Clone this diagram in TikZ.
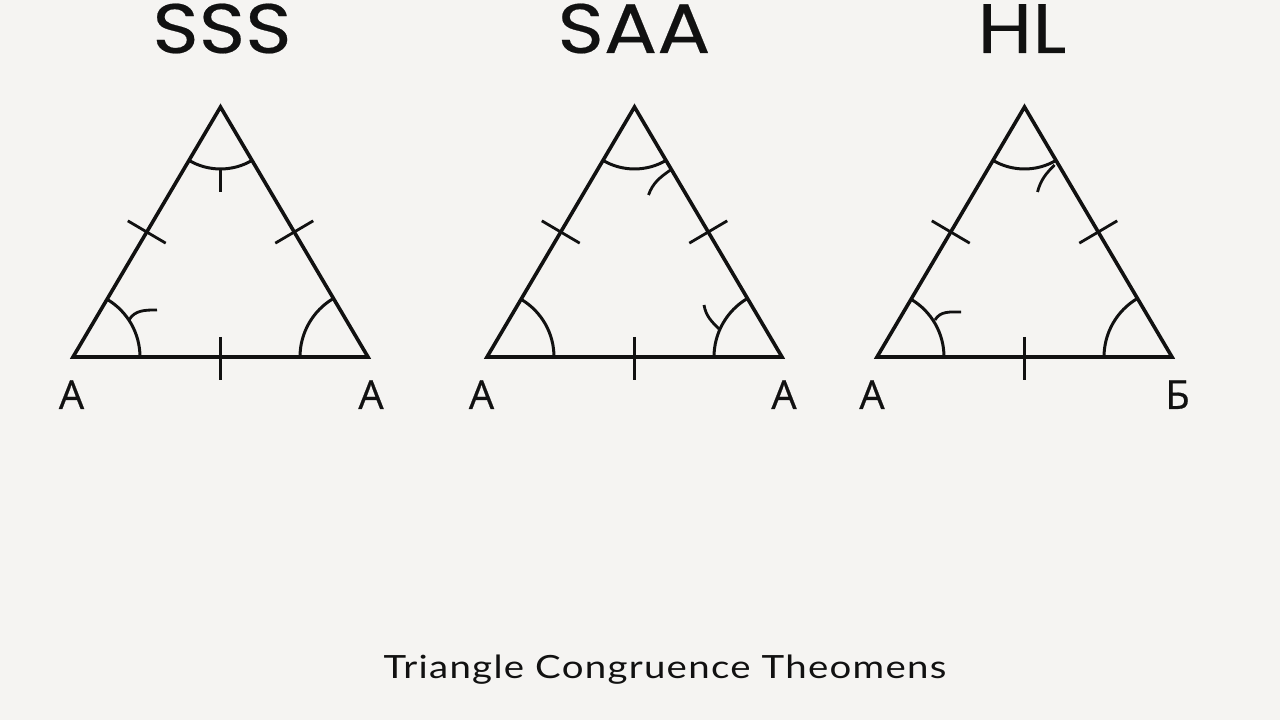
\documentclass[tikz,border=0pt]{standalone}
\usepackage{fontspec}
\usepackage{tikz}
\usetikzlibrary{calc}
\newfontfamily\titlefont{Poppins}[FakeStretch=1.13,FakeBold=0.3]
\newfontfamily\labelfont{Open Sans}[FakeBold=0.5]
\newfontfamily\capfont{Lato}[FakeStretch=1.2,LetterSpace=4]
\definecolor{bgcol}{RGB}{245,244,242}
\definecolor{ink}{RGB}{17,17,17}

\begin{document}
\begin{tikzpicture}[x=1pt,y=1pt,inner sep=0pt,
  tri/.style={draw=ink,line width=3.6pt,line join=miter},
  arcline/.style={draw=ink,line width=3pt},
  tickline/.style={draw=ink,line width=2.8pt},
  title/.style={anchor=base,text=ink,font=\titlefont\fontsize{70}{70}\selectfont},
  vlabel/.style={anchor=base,text=ink,font=\labelfont\fontsize{40}{40}\selectfont}]
  	\fill[bgcol] (0,0) rectangle (1280,720);
  	\useasboundingbox (0,0) rectangle (1280,720);

  	\node[title] (T1) at (222,667) {SSS};
  	\node[title] (T2) at (634,667) {SAA};
  	\node[title] (T3) at (1022,667) {HL};

  	\coordinate (A1) at (73,363);
  	\coordinate (B1) at (368,363);
  	\coordinate (C1) at (220.5,613);
  	\draw[tri] (A1) -- (B1) -- (C1) -- cycle;
  	\draw[arcline] (A1) ++(0:67) arc (0:59.5:67);
  	\draw[arcline] (B1) ++(180:68) arc (180:120.5:68);
  	\draw[arcline] (C1) ++(239.5:62) arc (239.5:300.5:62);
  	\draw[tickline] ($(A1)!0.5!(C1)$) ++(149.5:22) -- ++(329.5:44);
  	\draw[tickline] ($(B1)!0.5!(C1)$) ++(30.5:22) -- ++(210.5:44);
  	\draw[tickline] ($(A1)!0.5!(B1)$) ++(0,20) -- ++(0,-43);
  	\draw[tickline] (C1) ++(0,-62) -- ++(0,-23);
  	\draw[tickline] (A1) ++(56,37) to[out=60,in=180] ++(28,10);
  	\node[vlabel] (L1) at (71.5,311) {A};
  	\node[vlabel] (L2) at (371,311) {A};

  	\coordinate (A2) at (487,363);
  	\coordinate (B2) at (782,363);
  	\coordinate (C2) at (634.5,613);
  	\draw[tri] (A2) -- (B2) -- (C2) -- cycle;
  	\draw[arcline] (A2) ++(0:67) arc (0:59.5:67);
  	\draw[arcline] (B2) ++(180:68) arc (180:120.5:68);
  	\draw[arcline] (C2) ++(239.5:62) arc (239.5:300.5:62);
  	\draw[tickline] ($(A2)!0.5!(C2)$) ++(149.5:22) -- ++(329.5:44);
  	\draw[tickline] ($(B2)!0.5!(C2)$) ++(30.5:22) -- ++(210.5:44);
  	\draw[tickline] ($(A2)!0.5!(B2)$) ++(0,20) -- ++(0,-43);
  	\draw[tickline] (C2) ++(36,-63) to[out=215,in=70] ++(-22,-25);
  	\draw[tickline] (B2) ++(-63,28) to[out=135,in=280] ++(-15,24);
  	\node[vlabel] (L3) at (481.5,311) {A};
  	\node[vlabel] (L4) at (784,311) {A};

  	\coordinate (A3) at (877,363);
  	\coordinate (B3) at (1172,363);
  	\coordinate (C3) at (1024.5,613);
  	\draw[tri] (A3) -- (B3) -- (C3) -- cycle;
  	\draw[arcline] (A3) ++(0:67) arc (0:59.5:67);
  	\draw[arcline] (B3) ++(180:68) arc (180:120.5:68);
  	\draw[arcline] (C3) ++(239.5:62) arc (239.5:300.5:62);
  	\draw[tickline] ($(A3)!0.5!(C3)$) ++(149.5:22) -- ++(329.5:44);
  	\draw[tickline] ($(B3)!0.5!(C3)$) ++(30.5:22) -- ++(210.5:44);
  	\draw[tickline] ($(A3)!0.5!(B3)$) ++(0,20) -- ++(0,-43);
  	\draw[tickline] (C3) ++(30,-58) to[out=225,in=75] ++(-17,-27);
  	\draw[tickline] (A3) ++(58,37) to[out=60,in=180] ++(26,8);
  	\node[vlabel] (L5) at (872,311) {A};
  	\node[vlabel] (L6) at (1177.5,311) {Б};

  	\node[anchor=base,text=ink,font=\capfont\fontsize{32}{32}\selectfont] (Cap) at (665,41) {Triangle Congruence Theomens};
  	\end{tikzpicture}
\end{document}
